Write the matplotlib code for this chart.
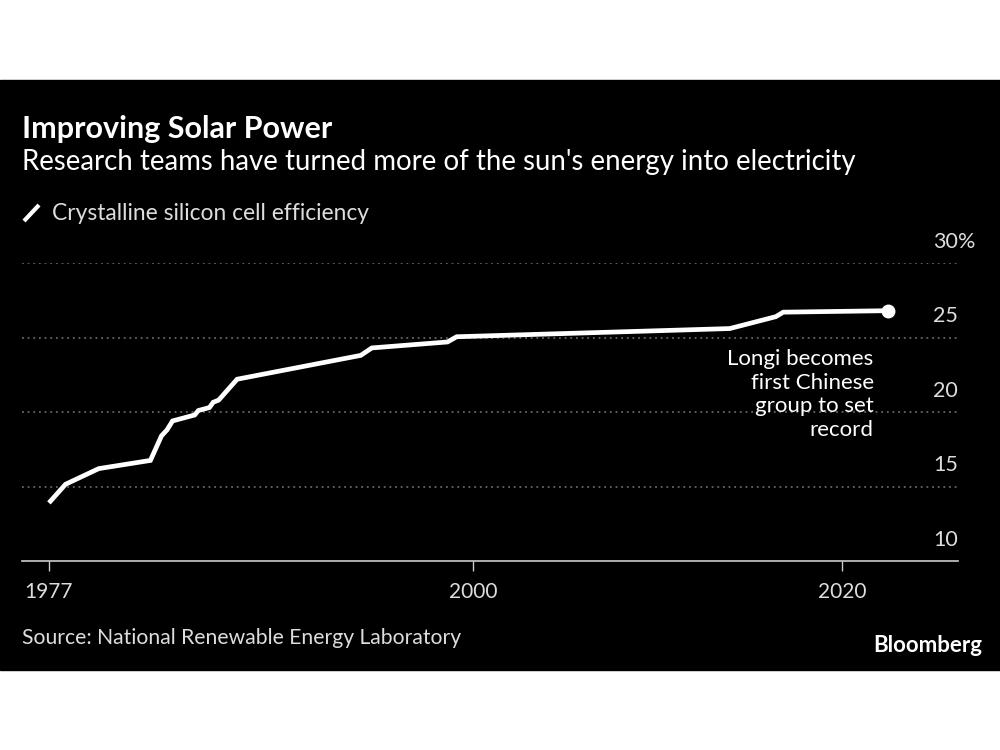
import matplotlib
matplotlib.use("Agg")
import matplotlib.pyplot as plt
from matplotlib.patches import Rectangle
from matplotlib.lines import Line2D

# data (NREL record cell efficiencies)
years = [1977.0, 1977.9, 1979.7, 1982.5, 1983.1, 1983.4, 1983.7, 1984.9, 1985.1,
         1985.7, 1985.9, 1986.2, 1987.2, 1993.9, 1994.5, 1998.6, 1999.1, 2013.9,
         2016.4, 2016.8, 2022.5]
efficiency = [13.9, 15.15, 16.2, 16.75, 18.4, 18.8, 19.4, 19.8, 20.1,
              20.3, 20.65, 20.8, 22.2, 23.8, 24.3, 24.7, 25.05, 25.6,
              26.4, 26.7, 26.8]
ytick_vals = [10, 15, 20, 25, 30]
ytick_labels = ["10", "15", "20", "25", "30%"]
xtick_vals = [1977, 2000, 2020]
xtick_labels = ["1977", "2000", "2020"]

plt.rcParams['font.family'] = ['Lato', 'DejaVu Sans']

W, H = 1000, 750
fig = plt.figure(figsize=(10, 7.5), dpi=100, facecolor="white")

def fx(px):
    return px / W

def fy(py):
    return 1 - py / H

# black panel
fig.patches.append(Rectangle((0, fy(670)), 1, fy(80) - fy(670),
                             transform=fig.transFigure, color="black", zorder=-10))

ax = fig.add_axes([fx(22), fy(561), fx(958) - fx(22), fy(263) - fy(561)])
ax.set_facecolor("black")
ax.patch.set_alpha(0)
ax.set_xlim(1975.54, 2026.27)
ax.set_ylim(10, 30)

for v in ytick_vals[1:]:
    ax.axhline(v, color="#777777", lw=1.1, ls=(0, (1.2, 2.5)), zorder=1)

ax.plot(years, efficiency, color="white", lw=3.4, solid_joinstyle="miter",
        solid_capstyle="butt", zorder=3)
ax.plot(years[-1], efficiency[-1], "o", color="white", ms=9, zorder=4)

for s in ["top", "left", "right"]:
    ax.spines[s].set_visible(False)
ax.spines["bottom"].set_color("#cccccc")
ax.spines["bottom"].set_linewidth(1.2)

ax.set_yticks([])
ax.set_xticks(xtick_vals)
ax.set_xticklabels(xtick_labels)
ax.tick_params(axis="x", colors="#cccccc", length=7, width=1, pad=8,
               labelsize=15, labelcolor="#dddddd")

# y labels sit above the gridlines, right aligned to the axes edge
for v, lab in zip(ytick_vals, ytick_labels):
    num = lab.rstrip("%")
    ax.annotate(num, xy=(1, v), xycoords=("axes fraction", "data"),
                xytext=(0, 8), textcoords="offset points",
                ha="right", va="bottom", color="#dddddd", fontsize=15.5)
    if lab.endswith("%"):
        ax.annotate("%", xy=(1, v), xycoords=("axes fraction", "data"),
                    xytext=(0, 8), textcoords="offset points",
                    ha="left", va="bottom", color="#dddddd", fontsize=15.5)

ax.text(2021.7, 24.2, "Longi becomes\nfirst Chinese\ngroup to set\nrecord",
        ha="right", va="top", color="white", fontsize=16, linespacing=1.22)

# header texts
fig.text(fx(22), fy(129), "Improving Solar Power", color="white",
         fontsize=22, fontweight="bold", va="center", ha="left")
fig.text(fx(22), fy(162), "Research teams have turned more of the sun's energy into electricity",
         color="white", fontsize=19.9, va="center", ha="left")
fig.lines.append(Line2D([fx(24), fx(39)], [fy(221), fy(205)], transform=fig.transFigure,
                        color="white", lw=3, solid_capstyle="butt"))
fig.text(fx(52), fy(213), "Crystalline silicon cell efficiency", color="#dddddd",
         fontsize=16.4, va="center", ha="left")

fig.text(fx(22), fy(638), "Source: National Renewable Energy Laboratory", color="#dddddd",
         fontsize=15.2, va="center", ha="left")
fig.text(fx(982), fy(645), "Bloomberg", color="white", fontsize=16,
         fontweight="bold", va="center", ha="right")

fig.savefig("out.png", dpi=100, facecolor="white")
